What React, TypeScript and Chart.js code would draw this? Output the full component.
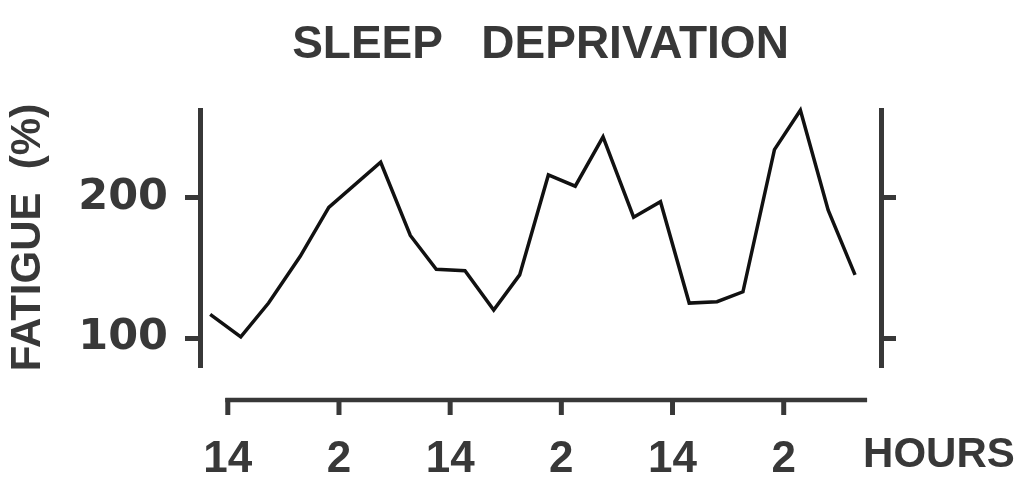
import React, { useEffect, useRef } from 'react';
import { Chart, registerables } from 'chart.js';

Chart.register(...registerables);

// ---- data (hours counted from 14:00 on day 1) ----
const hours = [-1.9, 1.4, 4.4, 7.8, 10.9, 16.5, 19.7, 22.5, 25.6, 28.7, 31.5, 34.6, 37.5, 40.5, 43.8, 46.7, 49.8, 52.8, 55.6, 59.0, 61.8, 64.8, 67.7];
const fatigue = [117, 101, 125, 158, 193, 225, 173, 149, 148, 120, 145, 216, 208, 243, 186, 197, 125, 126, 133, 234, 262, 191, 145];

const xTicks = [0, 12, 24, 36, 48, 60];
const xTickLabels = ['14', '2', '14', '2', '14', '2'];
const yTicks = [100, 200];

const xMin = -3;
const xMax = 70.5;
const xAxisEnd = 69;
const yMin = 81;
const yMax = 262;

const titleText = 'SLEEP   DEPRIVATION';
const yTitle = 'FATIGUE  (%)';
const xTitle = 'HOURS';

const FONT = '"Liberation Sans", Arial, Helvetica, sans-serif';
const WIDE_FONT = '"DejaVu Sans", "Liberation Sans", sans-serif';
const INK = '#383838';

const detachedXAxis = {
  id: 'detachedXAxis',
  afterDraw(chart: any) {
    const { ctx, chartArea, scales } = chart;
    const xs = scales.x;
    const y0 = chartArea.bottom + 35;
    const xa = xs.getPixelForValue(0);
    const xb = xs.getPixelForValue(xAxisEnd);
    ctx.save();
    ctx.strokeStyle = INK;
    ctx.lineCap = 'butt';
    ctx.lineWidth = 4.5;
    ctx.beginPath();
    ctx.moveTo(xa - 2.5, y0);
    ctx.lineTo(xb, y0);
    ctx.stroke();
    ctx.lineWidth = 5;
    xTicks.forEach((v) => {
      const px = xs.getPixelForValue(v);
      ctx.beginPath();
      ctx.moveTo(px, y0 - 2);
      ctx.lineTo(px, y0 + 15);
      ctx.stroke();
    });
    ctx.fillStyle = INK;
    ctx.font = `bold 42px ${FONT}`;
    ctx.textAlign = 'left';
    ctx.textBaseline = 'middle';
    ctx.fillText(xTitle, xb - 4, chartArea.bottom + 90);
    ctx.restore();
  },
};

export default function App() {
  const canvasRef = useRef<HTMLCanvasElement | null>(null);

  useEffect(() => {
    if (!canvasRef.current) return;
    const yAxisCommon = {
      type: 'linear' as const,
      min: yMin,
      max: yMax,
      afterBuildTicks: (scale: any) => {
        scale.ticks = yTicks.map((v) => ({ value: v }));
      },
      grid: {
        display: true,
        drawOnChartArea: false,
        drawTicks: true,
        tickLength: 15,
        lineWidth: 5,
        color: INK,
      },
      border: { display: true, width: 5, color: INK },
    };
    const chart = new Chart(canvasRef.current, {
      type: 'line',
      data: {
        datasets: [
          {
            data: hours.map((h, i) => ({ x: h, y: fatigue[i] })),
            borderColor: '#111111',
            borderWidth: 3.5,
            pointRadius: 0,
            tension: 0,
            fill: false,
            clip: false as any,
            yAxisID: 'y',
          },
        ],
      },
      options: {
        animation: false,
        responsive: true,
        maintainAspectRatio: false,
        layout: { padding: 0 },
        plugins: {
          legend: { display: false },
          tooltip: { enabled: false },
          title: {
            display: true,
            text: titleText,
            fullSize: false,
            color: INK,
            font: { family: FONT, size: 46, weight: 'bold' },
            padding: { top: 18, bottom: 37 },
          },
        },
        scales: {
          x: {
            type: 'linear',
            min: xMin,
            max: xMax,
            afterBuildTicks: (scale: any) => {
              scale.ticks = xTicks.map((v) => ({ value: v }));
            },
            afterFit: (scale: any) => {
              scale.height = 115;
            },
            grid: { display: false },
            border: { display: false },
            ticks: {
              autoSkip: false,
              maxRotation: 0,
              padding: 60,
              color: INK,
              font: { family: FONT, size: 44, weight: 'bold' },
              callback: (_v: any, i: number) => xTickLabels[i],
            },
          },
          y: {
            ...yAxisCommon,
            position: 'left',
            afterFit: (scale: any) => {
              scale.width = 200;
            },
            ticks: {
              padding: 17,
              color: INK,
              font: { family: WIDE_FONT, size: 43, weight: 'bold' },
              callback: (v: any) => String(v),
            },
            title: {
              display: true,
              text: yTitle,
              color: INK,
              font: { family: FONT, size: 42, weight: 'bold' },
              padding: { top: 3, bottom: 0 },
            },
          },
          y2: {
            ...yAxisCommon,
            position: 'right',
            afterFit: (scale: any) => {
              scale.width = 143;
            },
            ticks: { display: false },
          },
        },
      },
      plugins: [detachedXAxis],
    } as any);
    return () => chart.destroy();
  }, []);

  return (
    <div style={{ position: 'fixed', left: 0, top: 0, width: 1024, height: 480, background: '#fff' }}>
      <canvas ref={canvasRef} />
    </div>
  );
}
